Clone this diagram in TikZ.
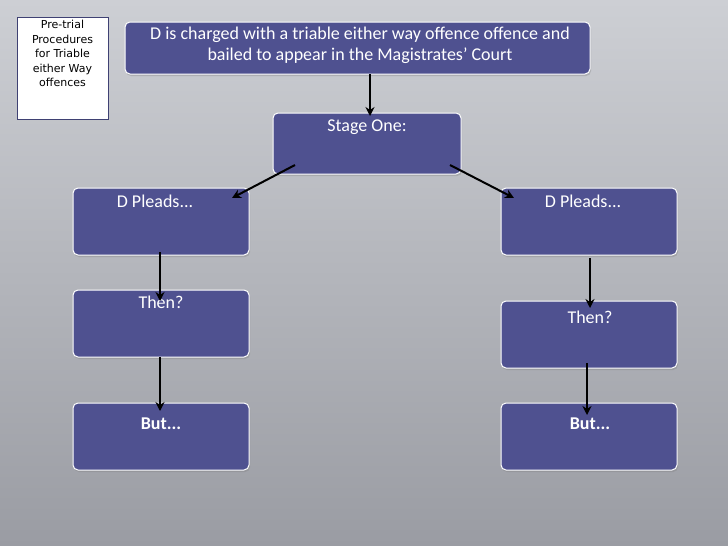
\documentclass[tikz,border=0pt]{standalone}
\usepackage{fontspec}
\setmainfont{Carlito}
\newfontfamily\comicf{DejaVu Sans}
\usetikzlibrary{arrows.meta,shadows}
\definecolor{boxc}{HTML}{4F5190}
\definecolor{bgt}{HTML}{CDCFD4}
\definecolor{bgb}{HTML}{9A9CA3}
\tikzset{
 bx/.style={draw=white,line width=1pt,fill=boxc,rounded corners=5pt,drop shadow={opacity=0.35,shadow xshift=1pt,shadow yshift=-2pt}},
 lab/.style={text=white,font=\fontsize{18}{21}\selectfont,align=center,anchor=north},
 arr/.style={line width=2pt,-{Stealth[length=9pt,width=9pt]}}
}
\begin{document}
\begin{tikzpicture}[x=1pt,y=-1pt]
\shade[top color=bgt, bottom color=bgb] (0,0) rectangle (728,546);
\useasboundingbox (0,0) rectangle (728,546);
\draw[draw=boxc!80!black,fill=white,line width=1pt] (17,17) rectangle (108,119);
\node[align=center,font=\comicf\fontsize{11}{14.5}\selectfont,anchor=north,inner sep=0pt] (t) at (62.5,20) {Pre-trial\\Procedures\\for Triable\\either Way\\offences};
\path[bx] (125,22) rectangle (590,74);
\node[lab] (m) at (360,23) {D is charged with a triable either way offence offence and\\bailed to appear in the Magistrates’ Court};
\path[bx] (273,113) rectangle (461,174);
\node[lab] (s) at (367,116) {Stage One:};
\foreach \x/\y in {73/188,73/290,73/403,501/188,501/301,501/403}{
 \path[bx] (\x,\y) rectangle ++(176,67);
}
\node[lab] (l1) at (155,191) {D Pleads...};
\node[lab] (l2) at (161,292) {Then?};
\node[lab] (l3) at (161,414) {\textbf{But...}};
\node[lab] (r1) at (583,191) {D Pleads...};
\node[lab] (r2) at (590,307) {Then?};
\node[lab] (r3) at (590,414) {\textbf{But...}};
\coordinate (a0) at (370,74); \coordinate (a1) at (370,116);
\draw[arr] (a0)--(a1);
\coordinate (b0) at (295,165); \coordinate (b1) at (232,198);
\draw[arr] (b0)--(b1);
\coordinate (c0) at (450,165); \coordinate (c1) at (514,198);
\draw[arr] (c0)--(c1);
\coordinate (d0) at (160,252); \coordinate (d1) at (160,301);
\draw[arr] (d0)--(d1);
\coordinate (e0) at (160,357); \coordinate (e1) at (160,411);
\draw[arr] (e0)--(e1);
\coordinate (f0) at (590,258); \coordinate (f1) at (590,308);
\draw[arr] (f0)--(f1);
\coordinate (g0) at (587,363); \coordinate (g1) at (587,415);
\draw[arr] (g0)--(g1);
\end{tikzpicture}
\end{document}
